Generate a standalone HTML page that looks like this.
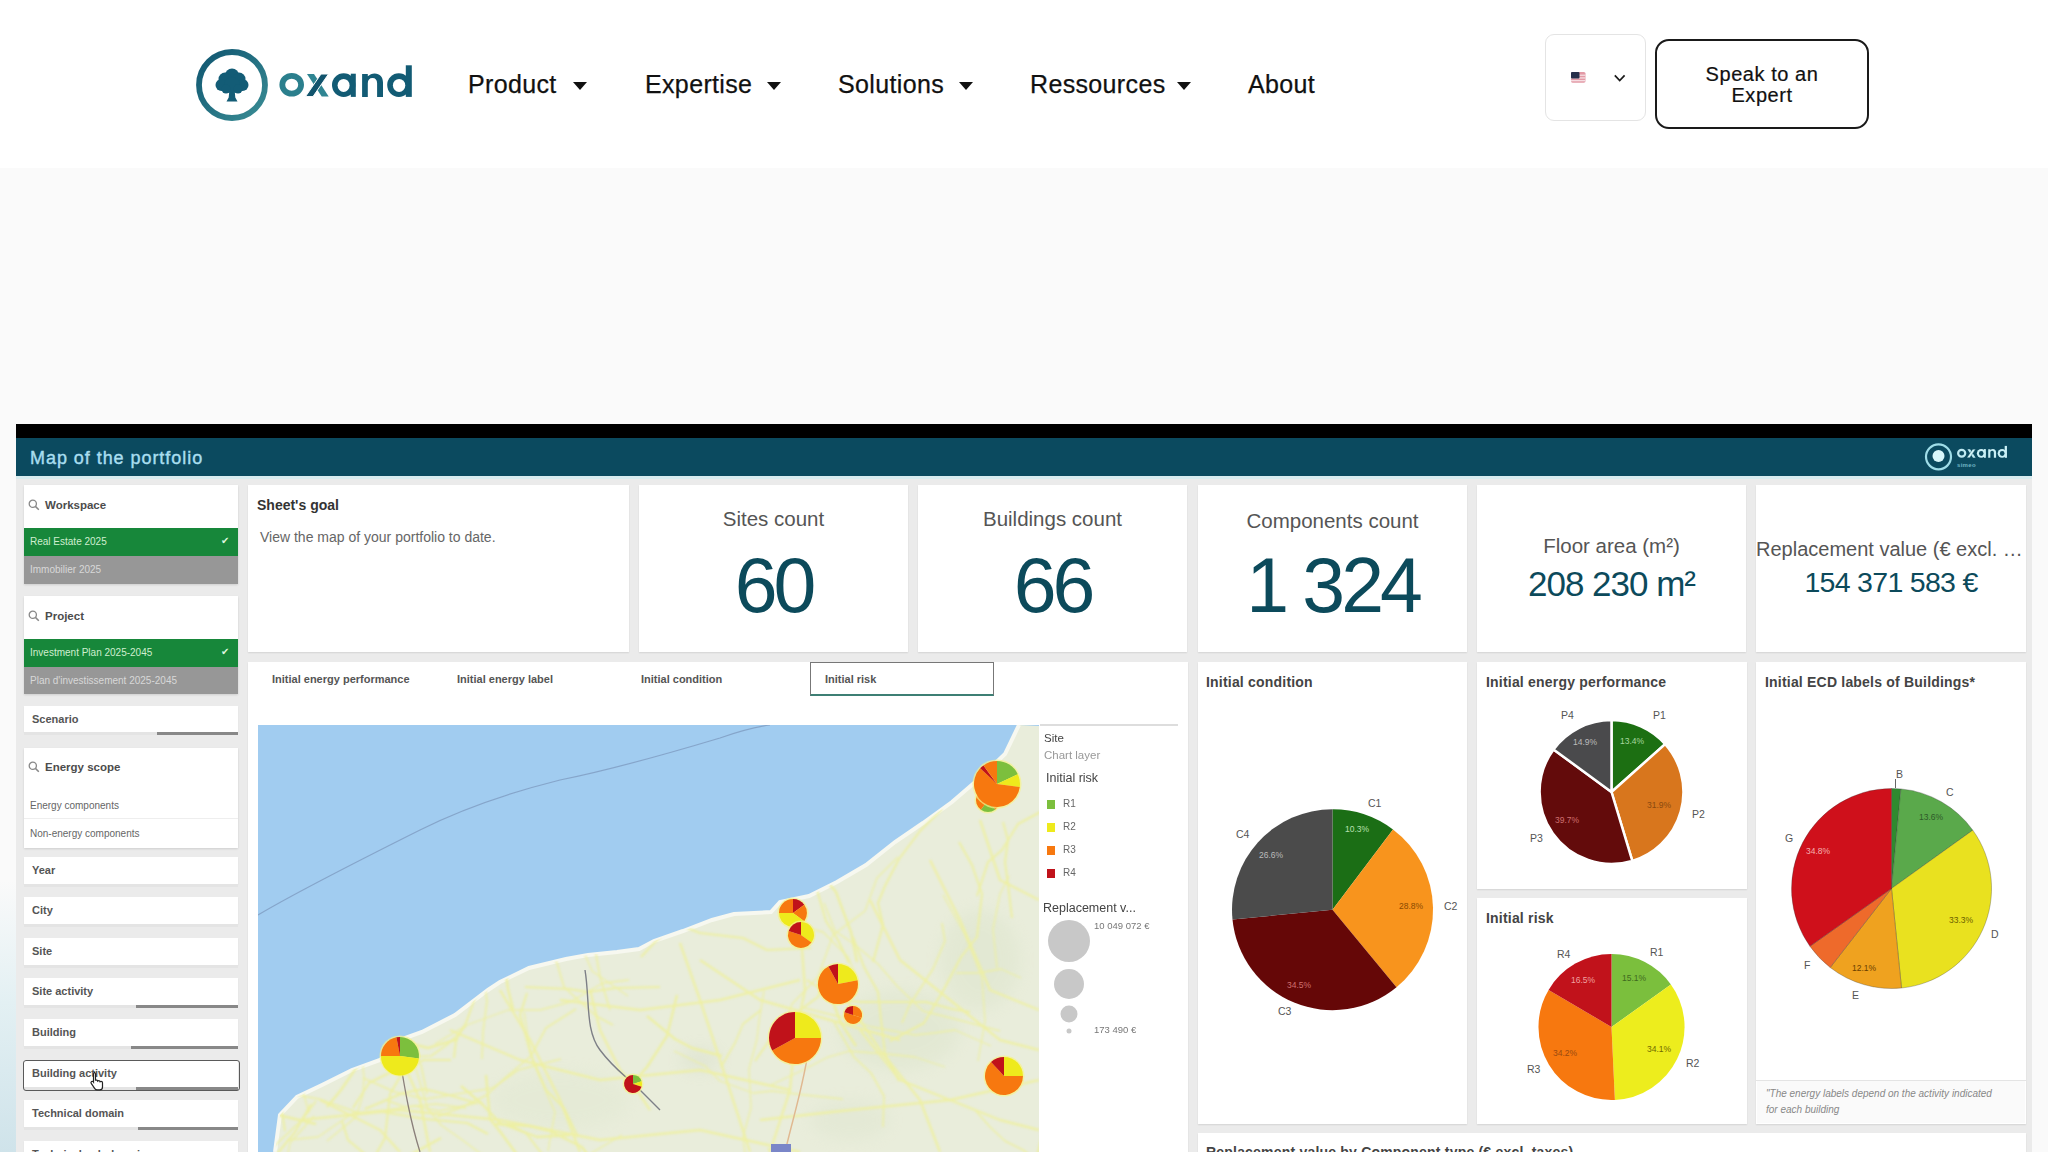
<!DOCTYPE html>
<html><head><meta charset="utf-8"><style>
*{margin:0;padding:0;box-sizing:border-box}
html,body{width:2048px;height:1152px;overflow:hidden;background:#fafafa;font-family:"Liberation Sans",sans-serif}
.a{position:absolute}
#hdr{left:0;top:0;width:2048px;height:168px;background:#fff}
.nav{font-size:25px;color:#111;top:70px;line-height:28px;white-space:nowrap;letter-spacing:.35px;-webkit-text-stroke:.25px #111}
.car{width:0;height:0;border-left:7px solid transparent;border-right:7px solid transparent;border-top:8px solid #111;top:82px}
.pnl{background:#fff;position:absolute;box-shadow:0 1px 1.5px rgba(0,0,0,.10)}
.dt{font-family:"Liberation Sans",sans-serif;white-space:nowrap;position:absolute}
</style></head>
<body>
<div id="hdr" class="a"></div><svg class="a" style="left:190px;top:40px" width="230" height="90" viewBox="190 40 230 90">
<defs><linearGradient id="lg" x1="0" y1="0" x2="1" y2="1"><stop offset="0" stop-color="#0f5570"/><stop offset="1" stop-color="#3a8d95"/></linearGradient></defs>
<circle cx="232" cy="85" r="33" fill="none" stroke="url(#lg)" stroke-width="5.8"/>
<g fill="#135c76"><circle cx="232" cy="75.5" r="7"/><circle cx="225" cy="79" r="6.5"/><circle cx="239" cy="79" r="6.5"/><circle cx="221.5" cy="85" r="6"/><circle cx="242.5" cy="85" r="6"/><circle cx="232" cy="85" r="8"/><circle cx="226" cy="89" r="4.5"/><circle cx="238" cy="89" r="4.5"/>
<path d="M229.3 91h5.4l.6 6.5 2.2 4h-11l2.2-4z"/></g>
<ellipse cx="291.7" cy="84.75" rx="9.4" ry="8.95" fill="none" stroke="#2b7f8d" stroke-width="5.8"/>
<path d="M307 74h7l14.7 22.6h-7z" fill="#2f8592"/>
<path d="M305.5 96.6h7.5l15.5-22.6h-7.5z" fill="#12546d" stroke="#fff" stroke-width="1"/>
<g fill="#125b74">
<ellipse cx="343.7" cy="85.1" rx="11.7" ry="11.85"/><rect x="350.8" y="73.7" width="5" height="23.2"/>
<path d="M362.1 96.9V74.1h5.7v2.2c1.8-1.9 4.2-2.9 6.8-2.9 5.3 0 8.4 3.6 8.4 9.1v14.4h-5.9V83.3c0-3.3-1.6-5.3-4.6-5.3s-4.7 2-4.7 5.3v13.6z"/>
<ellipse cx="398.8" cy="85.1" rx="11.6" ry="11.85"/><rect x="405.8" y="65.3" width="6" height="31.6"/></g>
<ellipse cx="343.6" cy="85.4" rx="6" ry="6.5" fill="#fff"/><ellipse cx="399.1" cy="85.4" rx="6.2" ry="6.5" fill="#fff"/>
</svg><div class="a nav" style="left:468px">Product</div><div class="a car" style="left:573px"></div><div class="a nav" style="left:645px">Expertise</div><div class="a car" style="left:767px"></div><div class="a nav" style="left:838px">Solutions</div><div class="a car" style="left:959px"></div><div class="a nav" style="left:1030px">Ressources</div><div class="a car" style="left:1177px"></div><div class="a nav" style="left:1248px">About</div><div class="a" style="left:1545px;top:34px;width:101px;height:87px;border:1.5px solid #e4e4e4;border-radius:9px;background:#fff"></div><svg class="a" style="left:1570px;top:71px" width="18" height="14" viewBox="0 0 18 14">
<rect x="1" y="1" width="14.5" height="10.7" rx="1.6" fill="#e39aa6"/>
<rect x="1" y="3.6" width="14.5" height="1.3" fill="#f6dde2"/><rect x="1" y="6.3" width="14.5" height="1.3" fill="#f6dde2"/><rect x="1" y="9" width="14.5" height="1.3" fill="#f6dde2"/>
<rect x="1" y="1" width="8.5" height="6.4" rx="1" fill="#262f4a"/></svg><svg class="a" style="left:1612px;top:72px" width="16" height="12" viewBox="0 0 16 12"><path d="M2.8 3.3l4.9 5.2 4.9-5.2" fill="none" stroke="#1a1a1a" stroke-width="1.7"/></svg><div class="a" style="left:1655px;top:39px;width:214px;height:90px;border:2.5px solid #1a1a1a;border-radius:14px;background:#fff"></div><div class="a" style="left:1655px;top:63.5px;width:214px;text-align:center;font-size:20px;line-height:21.3px;letter-spacing:.55px;color:#111;-webkit-text-stroke:.2px #111">Speak to an<br>Expert</div>
<div class="a" style="left:0;top:880px;width:16px;height:272px;background:linear-gradient(180deg,#fafafa,#e3f0f3 45%,#cfe3ea)"></div><div class="a" style="left:16px;top:424px;width:2016px;height:728px;background:#ebebeb"></div><div class="a" style="left:16px;top:424px;width:2016px;height:14px;background:#000"></div><div class="a" style="left:16px;top:438px;width:2016px;height:38px;background:#0b4a5f"></div><div class="a" style="left:16px;top:476px;width:2016px;height:3px;background:#d8ecef"></div><div class="dt" style="left:30px;top:447.5px;font-size:18px;letter-spacing:.95px;color:#a8def0;-webkit-text-stroke:.4px #a8def0">Map of the portfolio</div><svg class="a" style="left:1920px;top:440px" width="100" height="34" viewBox="1920 440 100 34">
<circle cx="1938.5" cy="456.8" r="12.5" fill="none" stroke="#9fdde8" stroke-width="2.2"/>
<circle cx="1938.5" cy="456" r="6" fill="#d8f6fa"/>
<g transform="translate(1957 445.9) scale(0.377) translate(-279.3 -65.3)"><ellipse cx="291.7" cy="84.75" rx="9.4" ry="8.95" fill="none" stroke="#bfeaf2" stroke-width="5.8"/>
<path d="M307 74h7l14.7 22.6h-7z" fill="#bfeaf2"/>
<path d="M305.5 96.6h7.5l15.5-22.6h-7.5z" fill="#d4f4f8" stroke="#0b4a5f" stroke-width="1"/>
<g fill="#c9f0f6">
<ellipse cx="343.7" cy="85.1" rx="11.7" ry="11.85"/><rect x="350.8" y="73.7" width="5" height="23.2"/>
<path d="M362.1 96.9V74.1h5.7v2.2c1.8-1.9 4.2-2.9 6.8-2.9 5.3 0 8.4 3.6 8.4 9.1v14.4h-5.9V83.3c0-3.3-1.6-5.3-4.6-5.3s-4.7 2-4.7 5.3v13.6z"/>
<ellipse cx="398.8" cy="85.1" rx="11.6" ry="11.85"/><rect x="405.8" y="65.3" width="6" height="31.6"/></g>
<ellipse cx="343.6" cy="85.4" rx="6" ry="6.5" fill="#0b4a5f"/><ellipse cx="399.1" cy="85.4" rx="6.2" ry="6.5" fill="#0b4a5f"/></g>
<text x="1957" y="467" font-family="Liberation Sans" font-weight="bold" font-size="6" fill="#6fb5c4" letter-spacing=".3">simeo</text>
</svg><div class="pnl" style="left:24px;top:485px;width:214px;height:99px;box-shadow:0 1px 2px rgba(0,0,0,.12)"></div><svg class="a" style="left:28px;top:499px" width="12" height="12" viewBox="0 0 12 12"><circle cx="4.8" cy="4.8" r="3.6" fill="none" stroke="#888" stroke-width="1.3"/><path d="M7.4 7.4L10.8 10.8" stroke="#888" stroke-width="1.5"/></svg><div class="dt" style="left:45px;top:499px;font-size:11.5px;font-weight:bold;color:#4c4c4c">Workspace</div><div class="a" style="left:24px;top:528px;width:214px;height:28px;background:#17873a"></div><div class="dt" style="left:30px;top:536px;font-size:10px;color:#cfeecf">Real Estate 2025</div><div class="dt" style="left:221px;top:535px;font-size:10px;color:#dff5df">&#10004;</div><div class="a" style="left:24px;top:556px;width:214px;height:28px;background:#979797"></div><div class="dt" style="left:30px;top:564px;font-size:10px;color:#d8d8d8">Immobilier 2025</div><div class="pnl" style="left:24px;top:596px;width:214px;height:98px;box-shadow:0 1px 2px rgba(0,0,0,.12)"></div><svg class="a" style="left:28px;top:610px" width="12" height="12" viewBox="0 0 12 12"><circle cx="4.8" cy="4.8" r="3.6" fill="none" stroke="#888" stroke-width="1.3"/><path d="M7.4 7.4L10.8 10.8" stroke="#888" stroke-width="1.5"/></svg><div class="dt" style="left:45px;top:610px;font-size:11.5px;font-weight:bold;color:#4c4c4c">Project</div><div class="a" style="left:24px;top:639px;width:214px;height:28px;background:#17873a"></div><div class="dt" style="left:30px;top:647px;font-size:10px;color:#cfeecf">Investment Plan 2025-2045</div><div class="dt" style="left:221px;top:646px;font-size:10px;color:#dff5df">&#10004;</div><div class="a" style="left:24px;top:667px;width:214px;height:27px;background:#979797"></div><div class="dt" style="left:30px;top:675px;font-size:10px;color:#d8d8d8">Plan d'investissement 2025-2045</div><div class="pnl" style="left:24px;top:706px;width:214px;height:26px;box-shadow:0 1px 1px rgba(0,0,0,.08)"></div><div class="dt" style="left:32px;top:713px;font-size:11px;font-weight:bold;color:#555">Scenario</div><div class="a" style="left:24px;top:732px;width:214px;height:2.5px;background:#e4e4e4"></div><div class="a" style="left:157px;top:732px;width:81px;height:3px;background:#888"></div><div class="pnl" style="left:24px;top:748px;width:214px;height:100px;box-shadow:0 1px 2px rgba(0,0,0,.12)"></div><svg class="a" style="left:28px;top:761px" width="12" height="12" viewBox="0 0 12 12"><circle cx="4.8" cy="4.8" r="3.6" fill="none" stroke="#888" stroke-width="1.3"/><path d="M7.4 7.4L10.8 10.8" stroke="#888" stroke-width="1.5"/></svg><div class="dt" style="left:45px;top:761px;font-size:11.5px;font-weight:bold;color:#4c4c4c">Energy scope</div><div class="dt" style="left:30px;top:799.5px;font-size:10px;color:#666">Energy components</div><div class="a" style="left:24px;top:818px;width:214px;height:1px;background:#eee"></div><div class="dt" style="left:30px;top:827.5px;font-size:10px;color:#666">Non-energy components</div><div class="pnl" style="left:24px;top:857px;width:214px;height:27px;box-shadow:0 1px 1px rgba(0,0,0,.08)"></div><div class="dt" style="left:32px;top:864px;font-size:11px;font-weight:bold;color:#555">Year</div><div class="a" style="left:24px;top:884px;width:214px;height:2.5px;background:#e4e4e4"></div><div class="pnl" style="left:24px;top:897px;width:214px;height:27px;box-shadow:0 1px 1px rgba(0,0,0,.08)"></div><div class="dt" style="left:32px;top:904px;font-size:11px;font-weight:bold;color:#555">City</div><div class="a" style="left:24px;top:924px;width:214px;height:2.5px;background:#e4e4e4"></div><div class="pnl" style="left:24px;top:938px;width:214px;height:27px;box-shadow:0 1px 1px rgba(0,0,0,.08)"></div><div class="dt" style="left:32px;top:945px;font-size:11px;font-weight:bold;color:#555">Site</div><div class="a" style="left:24px;top:965px;width:214px;height:2.5px;background:#e4e4e4"></div><div class="pnl" style="left:24px;top:978px;width:214px;height:27px;box-shadow:0 1px 1px rgba(0,0,0,.08)"></div><div class="dt" style="left:32px;top:985px;font-size:11px;font-weight:bold;color:#555">Site activity</div><div class="a" style="left:24px;top:1005px;width:214px;height:2.5px;background:#e4e4e4"></div><div class="a" style="left:136px;top:1005px;width:102px;height:3px;background:#888"></div><div class="pnl" style="left:24px;top:1019px;width:214px;height:27px;box-shadow:0 1px 1px rgba(0,0,0,.08)"></div><div class="dt" style="left:32px;top:1026px;font-size:11px;font-weight:bold;color:#555">Building</div><div class="a" style="left:24px;top:1046px;width:214px;height:2.5px;background:#e4e4e4"></div><div class="a" style="left:131px;top:1046px;width:107px;height:3px;background:#888"></div><div class="pnl" style="left:24px;top:1060px;width:214px;height:27px;box-shadow:0 1px 1px rgba(0,0,0,.08)"></div><div class="dt" style="left:32px;top:1067px;font-size:11px;font-weight:bold;color:#555">Building activity</div><div class="a" style="left:24px;top:1087px;width:214px;height:2.5px;background:#e4e4e4"></div><div class="a" style="left:136px;top:1087px;width:102px;height:3px;background:#888"></div><div class="pnl" style="left:24px;top:1100px;width:214px;height:27px;box-shadow:0 1px 1px rgba(0,0,0,.08)"></div><div class="dt" style="left:32px;top:1107px;font-size:11px;font-weight:bold;color:#555">Technical domain</div><div class="a" style="left:24px;top:1127px;width:214px;height:2.5px;background:#e4e4e4"></div><div class="a" style="left:138px;top:1127px;width:100px;height:3px;background:#888"></div><div class="pnl" style="left:24px;top:1141px;width:214px;height:27px;box-shadow:0 1px 1px rgba(0,0,0,.08)"></div><div class="dt" style="left:32px;top:1148px;font-size:11px;font-weight:bold;color:#555">Technical sub domain</div><div class="a" style="left:24px;top:1168px;width:214px;height:2.5px;background:#e4e4e4"></div><div class="a" style="left:23px;top:1060px;width:217px;height:31px;border:1.6px solid #5a5a5a;border-radius:3px"></div><svg class="a" style="left:89px;top:1071px" width="16" height="20" viewBox="0 0 16 20"><path d="M5 1.5c.9 0 1.5.6 1.5 1.5v6l.6-.1c.8 0 1.4.5 1.5 1.1.3-.3.7-.4 1.1-.4.7 0 1.3.5 1.4 1.1.3-.2.6-.3 1-.3.8 0 1.4.6 1.4 1.4V16c0 1.6-1.3 2.9-2.9 2.9H8.2c-1 0-1.9-.5-2.4-1.3L2.2 12.3c-.4-.6-.2-1.4.4-1.8.5-.3 1.2-.2 1.6.2l.3.4V3c0-.9.6-1.5 1.5-1.5z" fill="#fff" stroke="#222" stroke-width="1.2"/></svg><div class="pnl" style="left:248px;top:485px;width:381px;height:167px"></div><div class="dt" style="left:257px;top:497px;font-size:14px;font-weight:bold;color:#333">Sheet's goal</div><div class="dt" style="left:260px;top:529px;font-size:14px;color:#666">View the map of your portfolio to date.</div><div class="pnl" style="left:639px;top:485px;width:269px;height:167px"></div><div class="dt" style="left:639px;width:269px;text-align:center;top:507px;font-size:20.5px;color:#555">Sites count</div><div class="dt" style="left:639px;width:269px;text-align:center;top:543px;font-size:77px;line-height:84px;color:#0c4a5b;letter-spacing:-4px">60</div><div class="pnl" style="left:918px;top:485px;width:269px;height:167px"></div><div class="dt" style="left:918px;width:269px;text-align:center;top:507px;font-size:20.5px;color:#555">Buildings count</div><div class="dt" style="left:918px;width:269px;text-align:center;top:543px;font-size:77px;line-height:84px;color:#0c4a5b;letter-spacing:-4px">66</div><div class="pnl" style="left:1198px;top:485px;width:269px;height:167px"></div><div class="dt" style="left:1198px;width:269px;text-align:center;top:509px;font-size:20.5px;color:#555">Components count</div><div class="dt" style="left:1198px;width:269px;text-align:center;top:543px;font-size:77px;line-height:84px;color:#0c4a5b;letter-spacing:-4px">1 324</div><div class="pnl" style="left:1477px;top:485px;width:269px;height:167px"></div><div class="dt" style="left:1477px;width:269px;text-align:center;top:534px;font-size:20.5px;color:#555">Floor area (m²)</div><div class="dt" style="left:1477px;width:269px;text-align:center;top:563.5px;font-size:35px;line-height:40px;color:#0c4a5b;letter-spacing:-1px">208 230 m²</div><div class="pnl" style="left:1756px;top:485px;width:270px;height:167px"></div><div class="dt" style="left:1756px;top:538px;font-size:20px;color:#555">Replacement value (€ excl. …</div><div class="dt" style="left:1756px;width:270px;text-align:center;top:566px;font-size:28.5px;line-height:32px;color:#0c4a5b;letter-spacing:-0.7px">154 371 583 €</div><div class="pnl" style="left:248px;top:662px;width:940px;height:490px"></div><div class="dt" style="left:272px;top:673px;font-size:11px;font-weight:bold;color:#555">Initial energy performance</div><div class="dt" style="left:457px;top:673px;font-size:11px;font-weight:bold;color:#555">Initial energy label</div><div class="dt" style="left:641px;top:673px;font-size:11px;font-weight:bold;color:#555">Initial condition</div><div class="dt" style="left:825px;top:673px;font-size:11px;font-weight:bold;color:#555">Initial risk</div><div class="a" style="left:810px;top:662px;width:184px;height:34px;border:1.5px solid #777;border-bottom:2px solid #3e7f74"></div><div class="a" style="left:1040px;top:724px;width:138px;height:2px;background:#ddd"></div><svg class="a" style="left:258px;top:725px" width="781" height="427" viewBox="258 725 781 427">
<rect x="258" y="725" width="781" height="427" fill="#a1ccf0"/>
<path d="M258 915 C300 890 360 860 420 830 C470 805 520 790 560 780 C620 768 680 750 720 738 C740 731 755 727 770 725" fill="none" stroke="#7e9bc0" stroke-width="1.2" opacity=".8"/>
<filter id="bl2"><feGaussianBlur stdDeviation="8"/></filter><clipPath id="landc"><polygon points="1019,725 1005,754 981,777 952,802 923,823 895,842 866,865 837,882 809,896 780,902 771,912 734,914 712,920 683,931 654,941 639,949 617,952 588,955 566,959 529,968 500,982 488,990 455,1015 422,1032 405,1038 380,1060 352,1070 322,1085 297,1097 280,1115 275,1152 1039,1152 1039,726"/></clipPath><polygon points="1019,725 1005,754 981,777 952,802 923,823 895,842 866,865 837,882 809,896 780,902 771,912 734,914 712,920 683,931 654,941 639,949 617,952 588,955 566,959 529,968 500,982 488,990 455,1015 422,1032 405,1038 380,1060 352,1070 322,1085 297,1097 280,1115 275,1152 1039,1152 1039,726" fill="#e9eddb"/>
<path d="M1019 725 L1005 754 L981 777 L952 802 L923 823 L895 842 L866 865 L837 882 L809 896 L780 902 L771 912 L734 914 L712 920 L683 931 L654 941 L639 949 L617 952 L588 955 L566 959 L529 968 L500 982 L488 990 L455 1015 L422 1032 L405 1038 L380 1060 L352 1070 L322 1085 L297 1097 L280 1115 L275 1152" fill="none" stroke="#f7f8f0" stroke-width="4"/>
<g opacity=".3" filter="url(#bl2)"><ellipse cx="900" cy="1030" rx="60" ry="40" fill="#d5dfc3"/><ellipse cx="980" cy="960" rx="40" ry="50" fill="#d5dfc3"/><ellipse cx="560" cy="1100" rx="70" ry="30" fill="#dde5cc"/><ellipse cx="700" cy="1060" rx="20" ry="12" fill="#cfd6c0"/><ellipse cx="850" cy="1120" rx="40" ry="20" fill="#d8e0c8"/></g>
<filter id="bl"><feGaussianBlur stdDeviation="0.9"/></filter><g clip-path="url(#landc)" filter="url(#bl)"><polyline points="513,1009 508,989 502,947 493,929" fill="none" stroke="#edf0a0" stroke-width="2.4" stroke-linejoin="round" opacity=".9"/><polyline points="316,1101 302,1120 270,1150 248,1168 229,1171 204,1162 183,1165 146,1178" fill="none" stroke="#edf0a0" stroke-width="1.6" stroke-linejoin="round" opacity=".9"/><polyline points="342,1121 348,1140 366,1155 384,1179" fill="none" stroke="#edf0a0" stroke-width="2.0" stroke-linejoin="round" opacity=".9"/><polyline points="622,1135 590,1154 568,1178 538,1208 516,1221" fill="none" stroke="#edf0a0" stroke-width="1.3" stroke-linejoin="round" opacity=".9"/><polyline points="353,1108 369,1083 387,1074 424,1060 451,1060" fill="none" stroke="#edf0a0" stroke-width="2.0" stroke-linejoin="round" opacity=".9"/><polyline points="722,1056 692,1048 675,1039 647,1016" fill="none" stroke="#edf0a0" stroke-width="2.4" stroke-linejoin="round" opacity=".9"/><polyline points="482,1059 483,1032 487,1001 483,975" fill="none" stroke="#edf0a0" stroke-width="1.6" stroke-linejoin="round" opacity=".9"/><polyline points="570,1135 537,1137 500,1123 482,1104 461,1086" fill="none" stroke="#edf0a0" stroke-width="2.4" stroke-linejoin="round" opacity=".9"/><polyline points="1003,822 1008,840 1005,862 1008,884 1012,918" fill="none" stroke="#edf0a0" stroke-width="2.0" stroke-linejoin="round" opacity=".9"/><polyline points="1000,1031 963,1021 923,1011 897,986 878,964 854,944 835,931 824,903" fill="none" stroke="#edf0a0" stroke-width="1.3" stroke-linejoin="round" opacity=".9"/><polyline points="525,987 569,989 588,992 616,988 660,987" fill="none" stroke="#edf0a0" stroke-width="2.0" stroke-linejoin="round" opacity=".9"/><polyline points="629,980 603,983 570,1002 540,1010 508,1010 467,1025 435,1044" fill="none" stroke="#edf0a0" stroke-width="1.3" stroke-linejoin="round" opacity=".9"/><polyline points="849,963 838,940 826,921 817,890" fill="none" stroke="#edf0a0" stroke-width="2.0" stroke-linejoin="round" opacity=".9"/><polyline points="755,1061 778,1028 796,1013 818,997 825,979" fill="none" stroke="#edf0a0" stroke-width="2.0" stroke-linejoin="round" opacity=".9"/><polyline points="628,996 592,971 575,931 563,910 545,895 512,884" fill="none" stroke="#edf0a0" stroke-width="1.3" stroke-linejoin="round" opacity=".9"/><polyline points="633,1083 647,1067 667,1036 677,995" fill="none" stroke="#edf0a0" stroke-width="2.4" stroke-linejoin="round" opacity=".9"/><polyline points="873,962 883,925 878,903 885,886 899,859 920,831 942,809" fill="none" stroke="#edf0a0" stroke-width="2.0" stroke-linejoin="round" opacity=".9"/><polyline points="383,1112 425,1119 467,1123 488,1134" fill="none" stroke="#edf0a0" stroke-width="2.0" stroke-linejoin="round" opacity=".9"/><polyline points="427,1094 421,1065 395,1031 373,1011 345,979 314,949" fill="none" stroke="#edf0a0" stroke-width="1.6" stroke-linejoin="round" opacity=".9"/><polyline points="674,1051 705,1066 720,1081 753,1093 772,1091 805,1095 843,1099" fill="none" stroke="#edf0a0" stroke-width="1.3" stroke-linejoin="round" opacity=".9"/><polyline points="454,1058 456,1040 466,1023 481,981 492,961 498,929 516,903 524,872" fill="none" stroke="#edf0a0" stroke-width="2.0" stroke-linejoin="round" opacity=".9"/><polyline points="976,1111 990,1127 1005,1141 1023,1150 1054,1174 1063,1194 1069,1229" fill="none" stroke="#edf0a0" stroke-width="1.6" stroke-linejoin="round" opacity=".9"/><polyline points="458,1039 428,1048 389,1038 360,1042" fill="none" stroke="#edf0a0" stroke-width="2.4" stroke-linejoin="round" opacity=".9"/><polyline points="524,1012 529,1044 533,1062 547,1094 555,1112 548,1151" fill="none" stroke="#edf0a0" stroke-width="1.3" stroke-linejoin="round" opacity=".9"/><polyline points="327,1107 341,1090 365,1055 386,1042 410,1006" fill="none" stroke="#edf0a0" stroke-width="2.4" stroke-linejoin="round" opacity=".9"/><polyline points="804,927 823,932 848,957 856,976 856,996" fill="none" stroke="#edf0a0" stroke-width="1.3" stroke-linejoin="round" opacity=".9"/><polyline points="613,1025 596,1016 564,987 557,963 531,929 515,900" fill="none" stroke="#edf0a0" stroke-width="1.6" stroke-linejoin="round" opacity=".9"/><polyline points="486,1075 490,1119 502,1134 528,1170 542,1190 565,1218" fill="none" stroke="#edf0a0" stroke-width="2.4" stroke-linejoin="round" opacity=".9"/><polyline points="770,1046 784,1026 792,1004 818,977 833,935 865,911 877,878 898,857" fill="none" stroke="#edf0a0" stroke-width="1.3" stroke-linejoin="round" opacity=".9"/><polyline points="327,1141 356,1117 363,1095 364,1077 361,1050 373,1027" fill="none" stroke="#edf0a0" stroke-width="1.3" stroke-linejoin="round" opacity=".9"/><polyline points="1009,876 1000,894 993,929 997,968" fill="none" stroke="#edf0a0" stroke-width="1.3" stroke-linejoin="round" opacity=".9"/><polyline points="466,1026 448,1044 431,1056 390,1058" fill="none" stroke="#edf0a0" stroke-width="1.6" stroke-linejoin="round" opacity=".9"/><polyline points="771,1085 805,1069 828,1057 849,1051 886,1054 915,1057 945,1067" fill="none" stroke="#edf0a0" stroke-width="1.3" stroke-linejoin="round" opacity=".9"/><polyline points="902,1023 909,1006 933,969 945,941 942,923" fill="none" stroke="#edf0a0" stroke-width="1.6" stroke-linejoin="round" opacity=".9"/><polyline points="641,957 655,942 683,916 711,887 733,878 757,877 788,880 805,890" fill="none" stroke="#edf0a0" stroke-width="2.0" stroke-linejoin="round" opacity=".9"/><polyline points="856,1046 841,1023 828,989 823,968" fill="none" stroke="#edf0a0" stroke-width="2.4" stroke-linejoin="round" opacity=".9"/><polyline points="309,1113 302,1088 294,1059 288,1038 292,1015" fill="none" stroke="#edf0a0" stroke-width="1.3" stroke-linejoin="round" opacity=".9"/><polyline points="987,786 958,777 934,776 914,764 897,750 863,723 824,713 784,702" fill="none" stroke="#edf0a0" stroke-width="2.0" stroke-linejoin="round" opacity=".9"/><polyline points="441,1138 403,1159 375,1166 346,1167" fill="none" stroke="#edf0a0" stroke-width="2.4" stroke-linejoin="round" opacity=".9"/><polyline points="507,1124 526,1133 548,1162 552,1188 561,1215 552,1248" fill="none" stroke="#edf0a0" stroke-width="2.0" stroke-linejoin="round" opacity=".9"/><polyline points="978,1061 985,1021 982,978 973,955 964,933 943,895" fill="none" stroke="#edf0a0" stroke-width="1.3" stroke-linejoin="round" opacity=".9"/><polyline points="890,1041 924,1023 943,991 961,957 977,937 982,894 972,865 959,842" fill="none" stroke="#edf0a0" stroke-width="2.0" stroke-linejoin="round" opacity=".9"/><polyline points="576,1009 546,1028 531,1056 506,1077 487,1095 460,1108 437,1117" fill="none" stroke="#edf0a0" stroke-width="1.6" stroke-linejoin="round" opacity=".9"/><polyline points="527,993 520,1015 531,1055 546,1090 564,1108 578,1137" fill="none" stroke="#edf0a0" stroke-width="2.0" stroke-linejoin="round" opacity=".9"/><polyline points="359,1113 319,1099 285,1093 258,1090 219,1070" fill="none" stroke="#edf0a0" stroke-width="1.6" stroke-linejoin="round" opacity=".9"/><polyline points="287,1140 318,1137 353,1113 386,1110 415,1106 439,1111 482,1102" fill="none" stroke="#edf0a0" stroke-width="1.3" stroke-linejoin="round" opacity=".9"/><polyline points="991,1046 955,1030 934,1033 915,1035 872,1027 841,1017 804,1008" fill="none" stroke="#edf0a0" stroke-width="1.3" stroke-linejoin="round" opacity=".9"/><polyline points="316,1124 278,1115 248,1127 223,1121 182,1120 152,1130 133,1134" fill="none" stroke="#edf0a0" stroke-width="2.4" stroke-linejoin="round" opacity=".9"/><polyline points="807,980 837,1000 861,1002 889,1002 926,1002 952,1009 970,1012" fill="none" stroke="#edf0a0" stroke-width="2.0" stroke-linejoin="round" opacity=".9"/><polyline points="834,1022 854,1057 871,1073 884,1096 883,1127" fill="none" stroke="#edf0a0" stroke-width="1.6" stroke-linejoin="round" opacity=".9"/><polyline points="956,973 978,973 1001,969 1021,978" fill="none" stroke="#edf0a0" stroke-width="1.3" stroke-linejoin="round" opacity=".9"/><polyline points="811,948 767,950 743,938 700,933 682,926 659,910" fill="none" stroke="#edf0a0" stroke-width="2.0" stroke-linejoin="round" opacity=".9"/><polyline points="1024,1156 1049,1167 1062,1184 1063,1208" fill="none" stroke="#edf0a0" stroke-width="2.0" stroke-linejoin="round" opacity=".9"/><polyline points="857,962 851,932 836,892 818,871" fill="none" stroke="#edf0a0" stroke-width="2.4" stroke-linejoin="round" opacity=".9"/><polyline points="285,1131 282,1112 255,1079 223,1058 210,1034 180,1002 165,982" fill="none" stroke="#edf0a0" stroke-width="2.0" stroke-linejoin="round" opacity=".9"/><polyline points="977,896 988,862 1002,850 1018,824 1057,803 1077,789 1101,768 1123,764" fill="none" stroke="#edf0a0" stroke-width="2.0" stroke-linejoin="round" opacity=".9"/><polyline points="899,1081 885,1054 881,1020 878,992 864,967 853,937" fill="none" stroke="#edf0a0" stroke-width="2.0" stroke-linejoin="round" opacity=".9"/><polyline points="386,1100 405,1107 436,1104 466,1108" fill="none" stroke="#edf0a0" stroke-width="1.6" stroke-linejoin="round" opacity=".9"/><polyline points="365,1109 403,1093 424,1089 449,1095 476,1103" fill="none" stroke="#edf0a0" stroke-width="2.0" stroke-linejoin="round" opacity=".9"/><polyline points="416,1069 428,1109 441,1125 461,1139 489,1160" fill="none" stroke="#edf0a0" stroke-width="1.3" stroke-linejoin="round" opacity=".9"/><polyline points="768,1148 779,1170 793,1194 795,1218 815,1246 820,1269 841,1292" fill="none" stroke="#edf0a0" stroke-width="1.6" stroke-linejoin="round" opacity=".9"/><polyline points="610,1010 600,977 596,954 589,933" fill="none" stroke="#edf0a0" stroke-width="1.6" stroke-linejoin="round" opacity=".9"/><polyline points="1036,1160 1046,1121 1051,1093 1057,1074 1049,1044" fill="none" stroke="#edf0a0" stroke-width="2.4" stroke-linejoin="round" opacity=".9"/><polyline points="311,1104 295,1132 277,1154 260,1195 243,1219 240,1257 225,1283 227,1321" fill="none" stroke="#edf0a0" stroke-width="2.0" stroke-linejoin="round" opacity=".9"/><polyline points="761,1010 743,1024 735,1043 721,1067" fill="none" stroke="#edf0a0" stroke-width="1.6" stroke-linejoin="round" opacity=".9"/><polyline points="363,1078 395,1092 425,1099 451,1095 493,1088 518,1070 561,1059" fill="none" stroke="#edf0a0" stroke-width="1.6" stroke-linejoin="round" opacity=".9"/><polyline points="495,1124 530,1126 550,1131 582,1147 603,1176 610,1210 612,1233" fill="none" stroke="#edf0a0" stroke-width="2.4" stroke-linejoin="round" opacity=".9"/><polyline points="404,1070 390,1094 385,1138 374,1158 341,1182 308,1196 285,1213 253,1239" fill="none" stroke="#edf0a0" stroke-width="2.0" stroke-linejoin="round" opacity=".9"/><polyline points="764,991 759,1021 757,1039 749,1069 751,1108 743,1137 747,1168" fill="none" stroke="#edf0a0" stroke-width="1.3" stroke-linejoin="round" opacity=".9"/><polyline points="314,1116 290,1143 286,1164 270,1184 253,1196 213,1209 174,1214" fill="none" stroke="#edf0a0" stroke-width="1.3" stroke-linejoin="round" opacity=".9"/><polyline points="400,1056 420,1100 430,1152" fill="none" stroke="#eef0a0" stroke-width="2.4" stroke-linejoin="round" opacity=".85"/><polyline points="590,990 600,1030 620,1070 633,1084 650,1110" fill="none" stroke="#eef0a0" stroke-width="2.4" stroke-linejoin="round" opacity=".85"/><polyline points="795,1038 790,1090 770,1152" fill="none" stroke="#eef0a0" stroke-width="2.4" stroke-linejoin="round" opacity=".85"/><polyline points="801,935 805,990 795,1038" fill="none" stroke="#eef0a0" stroke-width="2.4" stroke-linejoin="round" opacity=".85"/><polyline points="500,990 530,1040 560,1100 580,1152" fill="none" stroke="#eef0a0" stroke-width="2.4" stroke-linejoin="round" opacity=".85"/><polyline points="300,1120 400,1110 500,1120 600,1140 700,1130 800,1152" fill="none" stroke="#eef0a0" stroke-width="2.4" stroke-linejoin="round" opacity=".85"/><polyline points="680,943 700,1000 720,1060 750,1152" fill="none" stroke="#eef0a0" stroke-width="2.4" stroke-linejoin="round" opacity=".85"/><polyline points="840,990 880,1050 920,1100 940,1152" fill="none" stroke="#eef0a0" stroke-width="2.4" stroke-linejoin="round" opacity=".85"/><polyline points="870,900 900,960 950,1000 1000,1040 1039,1050" fill="none" stroke="#eef0a0" stroke-width="2.4" stroke-linejoin="round" opacity=".85"/><polyline points="930,860 960,920 990,990 1039,1010" fill="none" stroke="#eef0a0" stroke-width="2.4" stroke-linejoin="round" opacity=".85"/><polyline points="760,1120 850,1110 950,1100 1039,1080" fill="none" stroke="#eef0a0" stroke-width="2.4" stroke-linejoin="round" opacity=".85"/><polyline points="980,820 1000,880 1039,900" fill="none" stroke="#eef0a0" stroke-width="2.4" stroke-linejoin="round" opacity=".85"/><polyline points="450,1030 520,1060 600,1080 700,1070 790,1090" fill="none" stroke="#eef0a0" stroke-width="2.4" stroke-linejoin="round" opacity=".85"/><polyline points="320,1100 380,1130 400,1152" fill="none" stroke="#eef0a0" stroke-width="2.4" stroke-linejoin="round" opacity=".85"/><polyline points="700,960 760,1000 830,1020 900,1040" fill="none" stroke="#eef0a0" stroke-width="2.4" stroke-linejoin="round" opacity=".85"/><polyline points="860,1030 900,1080 1000,1120 1039,1130" fill="none" stroke="#eef0a0" stroke-width="2.4" stroke-linejoin="round" opacity=".85"/><polyline points="560,1000 640,1010 720,1000 800,980" fill="none" stroke="#eef0a0" stroke-width="2.4" stroke-linejoin="round" opacity=".85"/></g>
<path d="M585 970 C590 1000 585 1030 600 1050 C615 1070 625 1075 640 1090 C650 1100 655 1105 660 1110" fill="none" stroke="#7d7f86" stroke-width="1.4"/>
<path d="M400 1060 C405 1090 410 1120 420 1152" fill="none" stroke="#8a7f7a" stroke-width="1.3"/>
<path d="M810 1040 C805 1080 795 1110 785 1152" fill="none" stroke="#e0b890" stroke-width="1.5"/>
<rect x="771" y="1144" width="20" height="8" fill="#7a86c8"/>
<circle cx="988" cy="800" r="13.5" fill="#f5f28a" opacity=".7"/><path d="M988.0 800.0L988.0 788.0A12 12 0 0 1 995.1 809.7Z" fill="#f7780f" stroke="none" stroke-width="0"/><path d="M988.0 800.0L995.1 809.7A12 12 0 0 1 980.9 809.7Z" fill="#7cbf3d" stroke="none" stroke-width="0"/><path d="M988.0 800.0L980.9 809.7A12 12 0 0 1 988.0 788.0Z" fill="#f7780f" stroke="none" stroke-width="0"/><circle cx="997" cy="784" r="24.5" fill="#f5f28a" opacity=".7"/><path d="M997.0 784.0L997.0 761.0A23 23 0 0 1 1017.8 774.2Z" fill="#7cbf3d" stroke="none" stroke-width="0"/><path d="M997.0 784.0L1017.8 774.2A23 23 0 0 1 1019.8 786.9Z" fill="#eeea1c" stroke="none" stroke-width="0"/><path d="M997.0 784.0L1019.8 786.9A23 23 0 1 1 980.2 768.3Z" fill="#f7780f" stroke="none" stroke-width="0"/><path d="M997.0 784.0L980.2 768.3A23 23 0 0 1 983.5 765.4Z" fill="#c0121a" stroke="none" stroke-width="0"/><path d="M997.0 784.0L983.5 765.4A23 23 0 0 1 997.0 761.0Z" fill="#f7780f" stroke="none" stroke-width="0"/><circle cx="793" cy="913" r="15.5" fill="#f5f28a" opacity=".7"/><path d="M793.0 913.0L793.0 899.0A14 14 0 0 1 804.3 904.8Z" fill="#c0121a" stroke="none" stroke-width="0"/><path d="M793.0 913.0L804.3 904.8A14 14 0 0 1 804.3 921.2Z" fill="#f7780f" stroke="none" stroke-width="0"/><path d="M793.0 913.0L804.3 921.2A14 14 0 0 1 779.0 913.0Z" fill="#eeea1c" stroke="none" stroke-width="0"/><path d="M793.0 913.0L779.0 913.0A14 14 0 0 1 793.0 899.0Z" fill="#f7780f" stroke="none" stroke-width="0"/><circle cx="801" cy="935" r="14.5" fill="#f5f28a" opacity=".7"/><path d="M801.0 935.0L801.0 922.0A13 13 0 0 1 811.5 942.6Z" fill="#eeea1c" stroke="none" stroke-width="0"/><path d="M801.0 935.0L811.5 942.6A13 13 0 0 1 788.6 931.0Z" fill="#f7780f" stroke="none" stroke-width="0"/><path d="M801.0 935.0L788.6 931.0A13 13 0 0 1 801.0 922.0Z" fill="#c0121a" stroke="none" stroke-width="0"/><circle cx="838" cy="984" r="21.5" fill="#f5f28a" opacity=".7"/><path d="M838.0 984.0L838.0 964.0A20 20 0 0 1 857.6 980.3Z" fill="#eeea1c" stroke="none" stroke-width="0"/><path d="M838.0 984.0L857.6 980.3A20 20 0 1 1 828.4 966.5Z" fill="#f7780f" stroke="none" stroke-width="0"/><path d="M838.0 984.0L828.4 966.5A20 20 0 0 1 838.0 964.0Z" fill="#c0121a" stroke="none" stroke-width="0"/><circle cx="853" cy="1015" r="10.5" fill="#f5f28a" opacity=".7"/><path d="M853.0 1015.0L853.0 1006.0A9 9 0 0 1 861.6 1017.8Z" fill="#f7780f" stroke="none" stroke-width="0"/><path d="M853.0 1015.0L861.6 1017.8A9 9 0 0 1 844.4 1012.2Z" fill="#f7780f" stroke="none" stroke-width="0"/><path d="M853.0 1015.0L844.4 1012.2A9 9 0 0 1 853.0 1006.0Z" fill="#c0121a" stroke="none" stroke-width="0"/><circle cx="795" cy="1038" r="27.5" fill="#f5f28a" opacity=".7"/><path d="M795.0 1038.0L795.0 1012.0A26 26 0 0 1 821.0 1038.0Z" fill="#eeea1c" stroke="none" stroke-width="0"/><path d="M795.0 1038.0L821.0 1038.0A26 26 0 0 1 772.2 1050.5Z" fill="#f7780f" stroke="none" stroke-width="0"/><path d="M795.0 1038.0L772.2 1050.5A26 26 0 0 1 795.0 1012.0Z" fill="#c0121a" stroke="none" stroke-width="0"/><circle cx="400" cy="1056" r="20.5" fill="#f5f28a" opacity=".7"/><path d="M400.0 1056.0L400.0 1037.0A19 19 0 0 1 418.9 1058.4Z" fill="#7cbf3d" stroke="none" stroke-width="0"/><path d="M400.0 1056.0L418.9 1058.4A19 19 0 0 1 381.0 1056.0Z" fill="#eeea1c" stroke="none" stroke-width="0"/><path d="M400.0 1056.0L381.0 1056.0A19 19 0 0 1 396.4 1037.3Z" fill="#f7780f" stroke="none" stroke-width="0"/><path d="M400.0 1056.0L396.4 1037.3A19 19 0 0 1 400.0 1037.0Z" fill="#c0121a" stroke="none" stroke-width="0"/><circle cx="633" cy="1084" r="10.5" fill="#f5f28a" opacity=".7"/><path d="M633.0 1084.0L633.0 1075.0A9 9 0 0 1 641.6 1081.2Z" fill="#7cbf3d" stroke="none" stroke-width="0"/><path d="M633.0 1084.0L641.6 1081.2A9 9 0 0 1 641.6 1086.8Z" fill="#eeea1c" stroke="none" stroke-width="0"/><path d="M633.0 1084.0L641.6 1086.8A9 9 0 1 1 633.0 1075.0Z" fill="#c0121a" stroke="none" stroke-width="0"/><circle cx="1004" cy="1076" r="20.5" fill="#f5f28a" opacity=".7"/><path d="M1004.0 1076.0L1004.0 1057.0A19 19 0 0 1 1023.0 1076.0Z" fill="#eeea1c" stroke="none" stroke-width="0"/><path d="M1004.0 1076.0L1023.0 1076.0A19 19 0 1 1 991.0 1062.1Z" fill="#f7780f" stroke="none" stroke-width="0"/><path d="M1004.0 1076.0L991.0 1062.1A19 19 0 0 1 1004.0 1057.0Z" fill="#c0121a" stroke="none" stroke-width="0"/></svg><div class="dt" style="left:1044px;top:732px;font-size:11.5px;color:#444">Site</div><div class="dt" style="left:1044px;top:749px;font-size:11.5px;color:#999">Chart layer</div><div class="dt" style="left:1046px;top:771px;font-size:12.5px;color:#444">Initial risk</div><div class="a" style="left:1047px;top:800px;width:8px;height:9px;background:#7cbf3d"></div><div class="dt" style="left:1063px;top:798px;font-size:10px;color:#666">R1</div><div class="a" style="left:1047px;top:823px;width:8px;height:9px;background:#eeea1c"></div><div class="dt" style="left:1063px;top:821px;font-size:10px;color:#666">R2</div><div class="a" style="left:1047px;top:846px;width:8px;height:9px;background:#f7780f"></div><div class="dt" style="left:1063px;top:844px;font-size:10px;color:#666">R3</div><div class="a" style="left:1047px;top:869px;width:8px;height:9px;background:#c0121a"></div><div class="dt" style="left:1063px;top:867px;font-size:10px;color:#666">R4</div><div class="dt" style="left:1043px;top:901px;font-size:12.5px;color:#444">Replacement v...</div><svg class="a" style="left:1040px;top:910px" width="140" height="130" viewBox="1040 910 140 130"><circle cx="1069" cy="941" r="21" fill="#c8c8c8"/><circle cx="1069" cy="984" r="15" fill="#c8c8c8"/><circle cx="1069" cy="1014" r="8.5" fill="#c8c8c8"/><circle cx="1069" cy="1031" r="2.5" fill="#c8c8c8"/></svg><div class="dt" style="left:1094px;top:920px;font-size:9.5px;color:#777">10 049 072 €</div><div class="dt" style="left:1094px;top:1024px;font-size:9.5px;color:#777">173 490 €</div><div class="pnl" style="left:1198px;top:662px;width:269px;height:462px"></div><div class="dt" style="left:1206px;top:674px;font-size:14px;color:#444;font-weight:bold;letter-spacing:.2px">Initial condition</div><div class="pnl" style="left:1477px;top:662px;width:270px;height:227px"></div><div class="dt" style="left:1486px;top:674px;font-size:14px;color:#444;font-weight:bold;letter-spacing:.2px">Initial energy performance</div><div class="pnl" style="left:1477px;top:898px;width:270px;height:226px"></div><div class="dt" style="left:1486px;top:910px;font-size:14px;color:#444;font-weight:bold;letter-spacing:.2px">Initial risk</div><div class="pnl" style="left:1756px;top:662px;width:270px;height:462px"></div><div class="dt" style="left:1765px;top:674px;font-size:14px;color:#444;font-weight:bold;letter-spacing:.2px">Initial ECD labels of Buildings*</div><div class="a" style="left:1756px;top:1080px;width:270px;height:1px;background:#e4e4e4"></div><div class="a" style="left:1757px;top:1081px;width:268px;height:42px;background:#fafafa"></div><div class="dt" style="left:1766px;top:1088px;font-size:10px;color:#888;font-style:italic">"The energy labels depend on the activity indicated</div><div class="dt" style="left:1766px;top:1104px;font-size:10px;color:#888;font-style:italic">for each building</div><div class="pnl" style="left:1198px;top:1133px;width:828px;height:19px"></div><div class="dt" style="left:1206px;top:1144px;font-size:14px;color:#444;font-weight:bold;letter-spacing:.2px">Replacement value by Component type (€ excl. taxes)</div><svg class="a" style="left:1198px;top:662px" width="828" height="462" viewBox="1198 662 828 462"><path d="M1332.5 909.7L1332.5 809.2A100.5 100.5 0 0 1 1393.0 829.4Z" fill="#1b6e15" stroke="none" stroke-width="0"/><path d="M1332.5 909.7L1393.0 829.4A100.5 100.5 0 0 1 1396.5 987.2Z" fill="#f8941d" stroke="none" stroke-width="0"/><path d="M1332.5 909.7L1396.5 987.2A100.5 100.5 0 0 1 1232.5 919.5Z" fill="#650707" stroke="none" stroke-width="0"/><path d="M1332.5 909.7L1232.5 919.5A100.5 100.5 0 0 1 1332.5 809.2Z" fill="#4b4b4b" stroke="none" stroke-width="0"/><path d="M1611.5 792.0L1611.5 720.0A72 72 0 0 1 1665.2 744.1Z" fill="#1c6f12" stroke="#fff" stroke-width="2.5"/><path d="M1611.5 792.0L1665.2 744.1A72 72 0 0 1 1632.3 860.9Z" fill="#d8761d" stroke="#fff" stroke-width="2.5"/><path d="M1611.5 792.0L1632.3 860.9A72 72 0 0 1 1553.5 749.4Z" fill="#630b0b" stroke="#fff" stroke-width="2.5"/><path d="M1611.5 792.0L1553.5 749.4A72 72 0 0 1 1611.5 720.0Z" fill="#4a4a4c" stroke="#fff" stroke-width="2.5"/><path d="M1611.5 1027.0L1611.5 954.0A73 73 0 0 1 1670.9 984.5Z" fill="#7bbf3d" stroke="none" stroke-width="0"/><path d="M1611.5 1027.0L1670.9 984.5A73 73 0 0 1 1614.9 1099.9Z" fill="#eded1d" stroke="none" stroke-width="0"/><path d="M1611.5 1027.0L1614.9 1099.9A73 73 0 0 1 1548.6 989.9Z" fill="#f7780f" stroke="none" stroke-width="0"/><path d="M1611.5 1027.0L1548.6 989.9A73 73 0 0 1 1611.5 954.0Z" fill="#c1121b" stroke="none" stroke-width="0"/><path d="M1891.5 888.5L1891.5 788.5A100 100 0 0 1 1900.9 788.9Z" fill="#2f8a2f" stroke="#333" stroke-width="0.3"/><path d="M1891.5 888.5L1900.9 788.9A100 100 0 0 1 1972.8 830.2Z" fill="#5aa94b" stroke="#333" stroke-width="0.3"/><path d="M1891.5 888.5L1972.8 830.2A100 100 0 0 1 1901.5 988.0Z" fill="#e9e11f" stroke="#333" stroke-width="0.3"/><path d="M1891.5 888.5L1901.5 988.0A100 100 0 0 1 1830.2 967.5Z" fill="#efa21f" stroke="#333" stroke-width="0.3"/><path d="M1891.5 888.5L1830.2 967.5A100 100 0 0 1 1809.9 946.3Z" fill="#ee6a2b" stroke="#333" stroke-width="0.3"/><path d="M1891.5 888.5L1809.9 946.3A100 100 0 0 1 1891.5 788.5Z" fill="#cf101b" stroke="#333" stroke-width="0.3"/><path d="M1895.5 779V788" stroke="#666" stroke-width="1"/></svg><div class="dt" style="left:1368px;top:797px;font-size:10.5px;color:#555;">C1</div><div class="dt" style="left:1236px;top:828px;font-size:10.5px;color:#555;">C4</div><div class="dt" style="left:1444px;top:900px;font-size:10.5px;color:#555;">C2</div><div class="dt" style="left:1278px;top:1005px;font-size:10.5px;color:#555;">C3</div><div class="dt" style="left:1345px;top:824px;font-size:8.5px;color:#b8e0b0;">10.3%</div><div class="dt" style="left:1259px;top:850px;font-size:8.5px;color:#bbb;">26.6%</div><div class="dt" style="left:1399px;top:901px;font-size:8.5px;color:#8a4a00;">28.8%</div><div class="dt" style="left:1287px;top:980px;font-size:8.5px;color:#d07070;">34.5%</div><div class="dt" style="left:1561px;top:709px;font-size:10.5px;color:#555;">P4</div><div class="dt" style="left:1653px;top:709px;font-size:10.5px;color:#555;">P1</div><div class="dt" style="left:1692px;top:808px;font-size:10.5px;color:#555;">P2</div><div class="dt" style="left:1530px;top:832px;font-size:10.5px;color:#555;">P3</div><div class="dt" style="left:1573px;top:737px;font-size:8.5px;color:#bbb;">14.9%</div><div class="dt" style="left:1620px;top:736px;font-size:8.5px;color:#a8d8a0;">13.4%</div><div class="dt" style="left:1647px;top:800px;font-size:8.5px;color:#8a4a10;">31.9%</div><div class="dt" style="left:1555px;top:815px;font-size:8.5px;color:#d07070;">39.7%</div><div class="dt" style="left:1557px;top:948px;font-size:10.5px;color:#555;">R4</div><div class="dt" style="left:1650px;top:946px;font-size:10.5px;color:#555;">R1</div><div class="dt" style="left:1686px;top:1057px;font-size:10.5px;color:#555;">R2</div><div class="dt" style="left:1527px;top:1063px;font-size:10.5px;color:#555;">R3</div><div class="dt" style="left:1571px;top:975px;font-size:8.5px;color:#f0a0a0;">16.5%</div><div class="dt" style="left:1622px;top:973px;font-size:8.5px;color:#406a20;">15.1%</div><div class="dt" style="left:1647px;top:1044px;font-size:8.5px;color:#706a00;">34.1%</div><div class="dt" style="left:1553px;top:1048px;font-size:8.5px;color:#9a4a10;">34.2%</div><div class="dt" style="left:1896px;top:768px;font-size:10.5px;color:#555;">B</div><div class="dt" style="left:1946px;top:786px;font-size:10.5px;color:#555;">C</div><div class="dt" style="left:1785px;top:832px;font-size:10.5px;color:#555;">G</div><div class="dt" style="left:1991px;top:928px;font-size:10.5px;color:#555;">D</div><div class="dt" style="left:1804px;top:959px;font-size:10.5px;color:#555;">F</div><div class="dt" style="left:1852px;top:989px;font-size:10.5px;color:#555;">E</div><div class="dt" style="left:1919px;top:812px;font-size:8.5px;color:#2f5a2a;">13.6%</div><div class="dt" style="left:1806px;top:846px;font-size:8.5px;color:#f4b0b0;">34.8%</div><div class="dt" style="left:1949px;top:915px;font-size:8.5px;color:#6a6000;">33.3%</div><div class="dt" style="left:1852px;top:963px;font-size:8.5px;color:#6a4000;">12.1%</div>
</body></html>
